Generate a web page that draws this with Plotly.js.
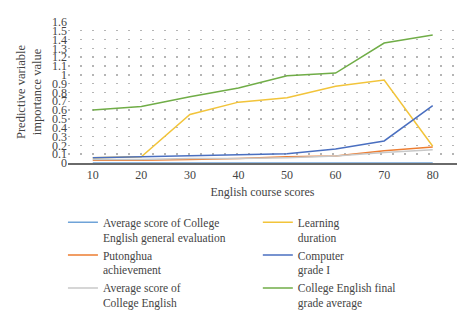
<!DOCTYPE html>
<html>
<head>
<meta charset="utf-8">
<script src="https://cdn.plot.ly/plotly-3.0.1.min.js"></script>
<style>html,body{margin:0;padding:0;background:#fff;}#chart{width:474px;height:327px;}</style>
</head>
<body>
<div id="chart"></div>
<script>
var scores = [10, 20, 30, 40, 50, 60, 70, 80];
var generalEval = [0.0, 0.0, 0.0, 0.0, 0.0, 0.0, 0.0, 0.0];
var learningDuration = [0.06, 0.07, 0.55, 0.69, 0.74, 0.87, 0.94, 0.19];
var putonghua = [0.03, 0.03, 0.04, 0.05, 0.07, 0.08, 0.14, 0.18];
var computerGrade = [0.06, 0.07, 0.08, 0.09, 0.105, 0.16, 0.25, 0.65];
var avgCollegeEnglish = [0.04, 0.04, 0.05, 0.05, 0.06, 0.08, 0.12, 0.15];
var finalGradeAvg = [0.60, 0.64, 0.75, 0.85, 0.99, 1.02, 1.36, 1.45];

var names = [
  "Average score of College<br>English general evaluation",
  "Putonghua<br>achievement",
  "Average score of<br>College English",
  "Learning<br>duration",
  "Computer<br>grade I",
  "College English final<br>grade average"
];
var series = [generalEval, putonghua, avgCollegeEnglish, learningDuration, computerGrade, finalGradeAvg];
var colors = ["#6fa3d8", "#ed7d31", "#c8c8c8", "#f2c43a", "#4a6fc0", "#70ad47"];
var legends = ["legend", "legend", "legend", "legend2", "legend2", "legend2"];

var traces = series.map(function (s, i) {
  return {
    x: scores, y: s, name: names[i], type: "scatter", mode: "lines",
    legend: legends[i],
    line: {color: colors[i], width: 1.5}
  };
});

var fam = "'Liberation Serif', 'Times New Roman', serif";
var font = {family: fam, color: "#444", size: 11};
var legFont = {family: fam, color: "#444", size: 11.5};

var layout = {
  width: 474, height: 327,
  margin: {l: 68, r: 17, t: 21, b: 164, autoexpand: false},
  paper_bgcolor: "#fff", plot_bgcolor: "#fff",
  font: font,
  showlegend: true,
  legend: {
    orientation: "v", x: -0.013, xanchor: "left", y: -0.318, yanchor: "top",
    valign: "top", font: legFont, itemwidth: 30, bgcolor: "rgba(0,0,0,0)"
  },
  legend2: {
    orientation: "v", x: 0.488, xanchor: "left", y: -0.318, yanchor: "top",
    valign: "top", font: legFont, itemwidth: 30, bgcolor: "rgba(0,0,0,0)"
  },
  xaxis: {
    range: [4.9, 85], tickvals: scores, ticks: "", showgrid: false,
    showline: true, linecolor: "#6a6a6a", linewidth: 2, layer: "below traces",
    zeroline: false, tickfont: {size: 12},
    title: {text: "English course scores", font: {size: 12}, standoff: 6}
  },
  yaxis: {
    range: [0, 1.61], dtick: 0.1, tick0: 0, ticks: "", showline: false,
    zeroline: false, showgrid: true, gridcolor: "#b5b5b5", griddash: "1.5px,10.5px", gridwidth: 1.5,
    tickfont: {size: 12},
    title: {text: "Predictive variable<br>importance value", font: {size: 12.5}, standoff: 7}
  }
};

Plotly.newPlot("chart", traces, layout, {staticPlot: true, displayModeBar: false});
</script>
</body>
</html>
